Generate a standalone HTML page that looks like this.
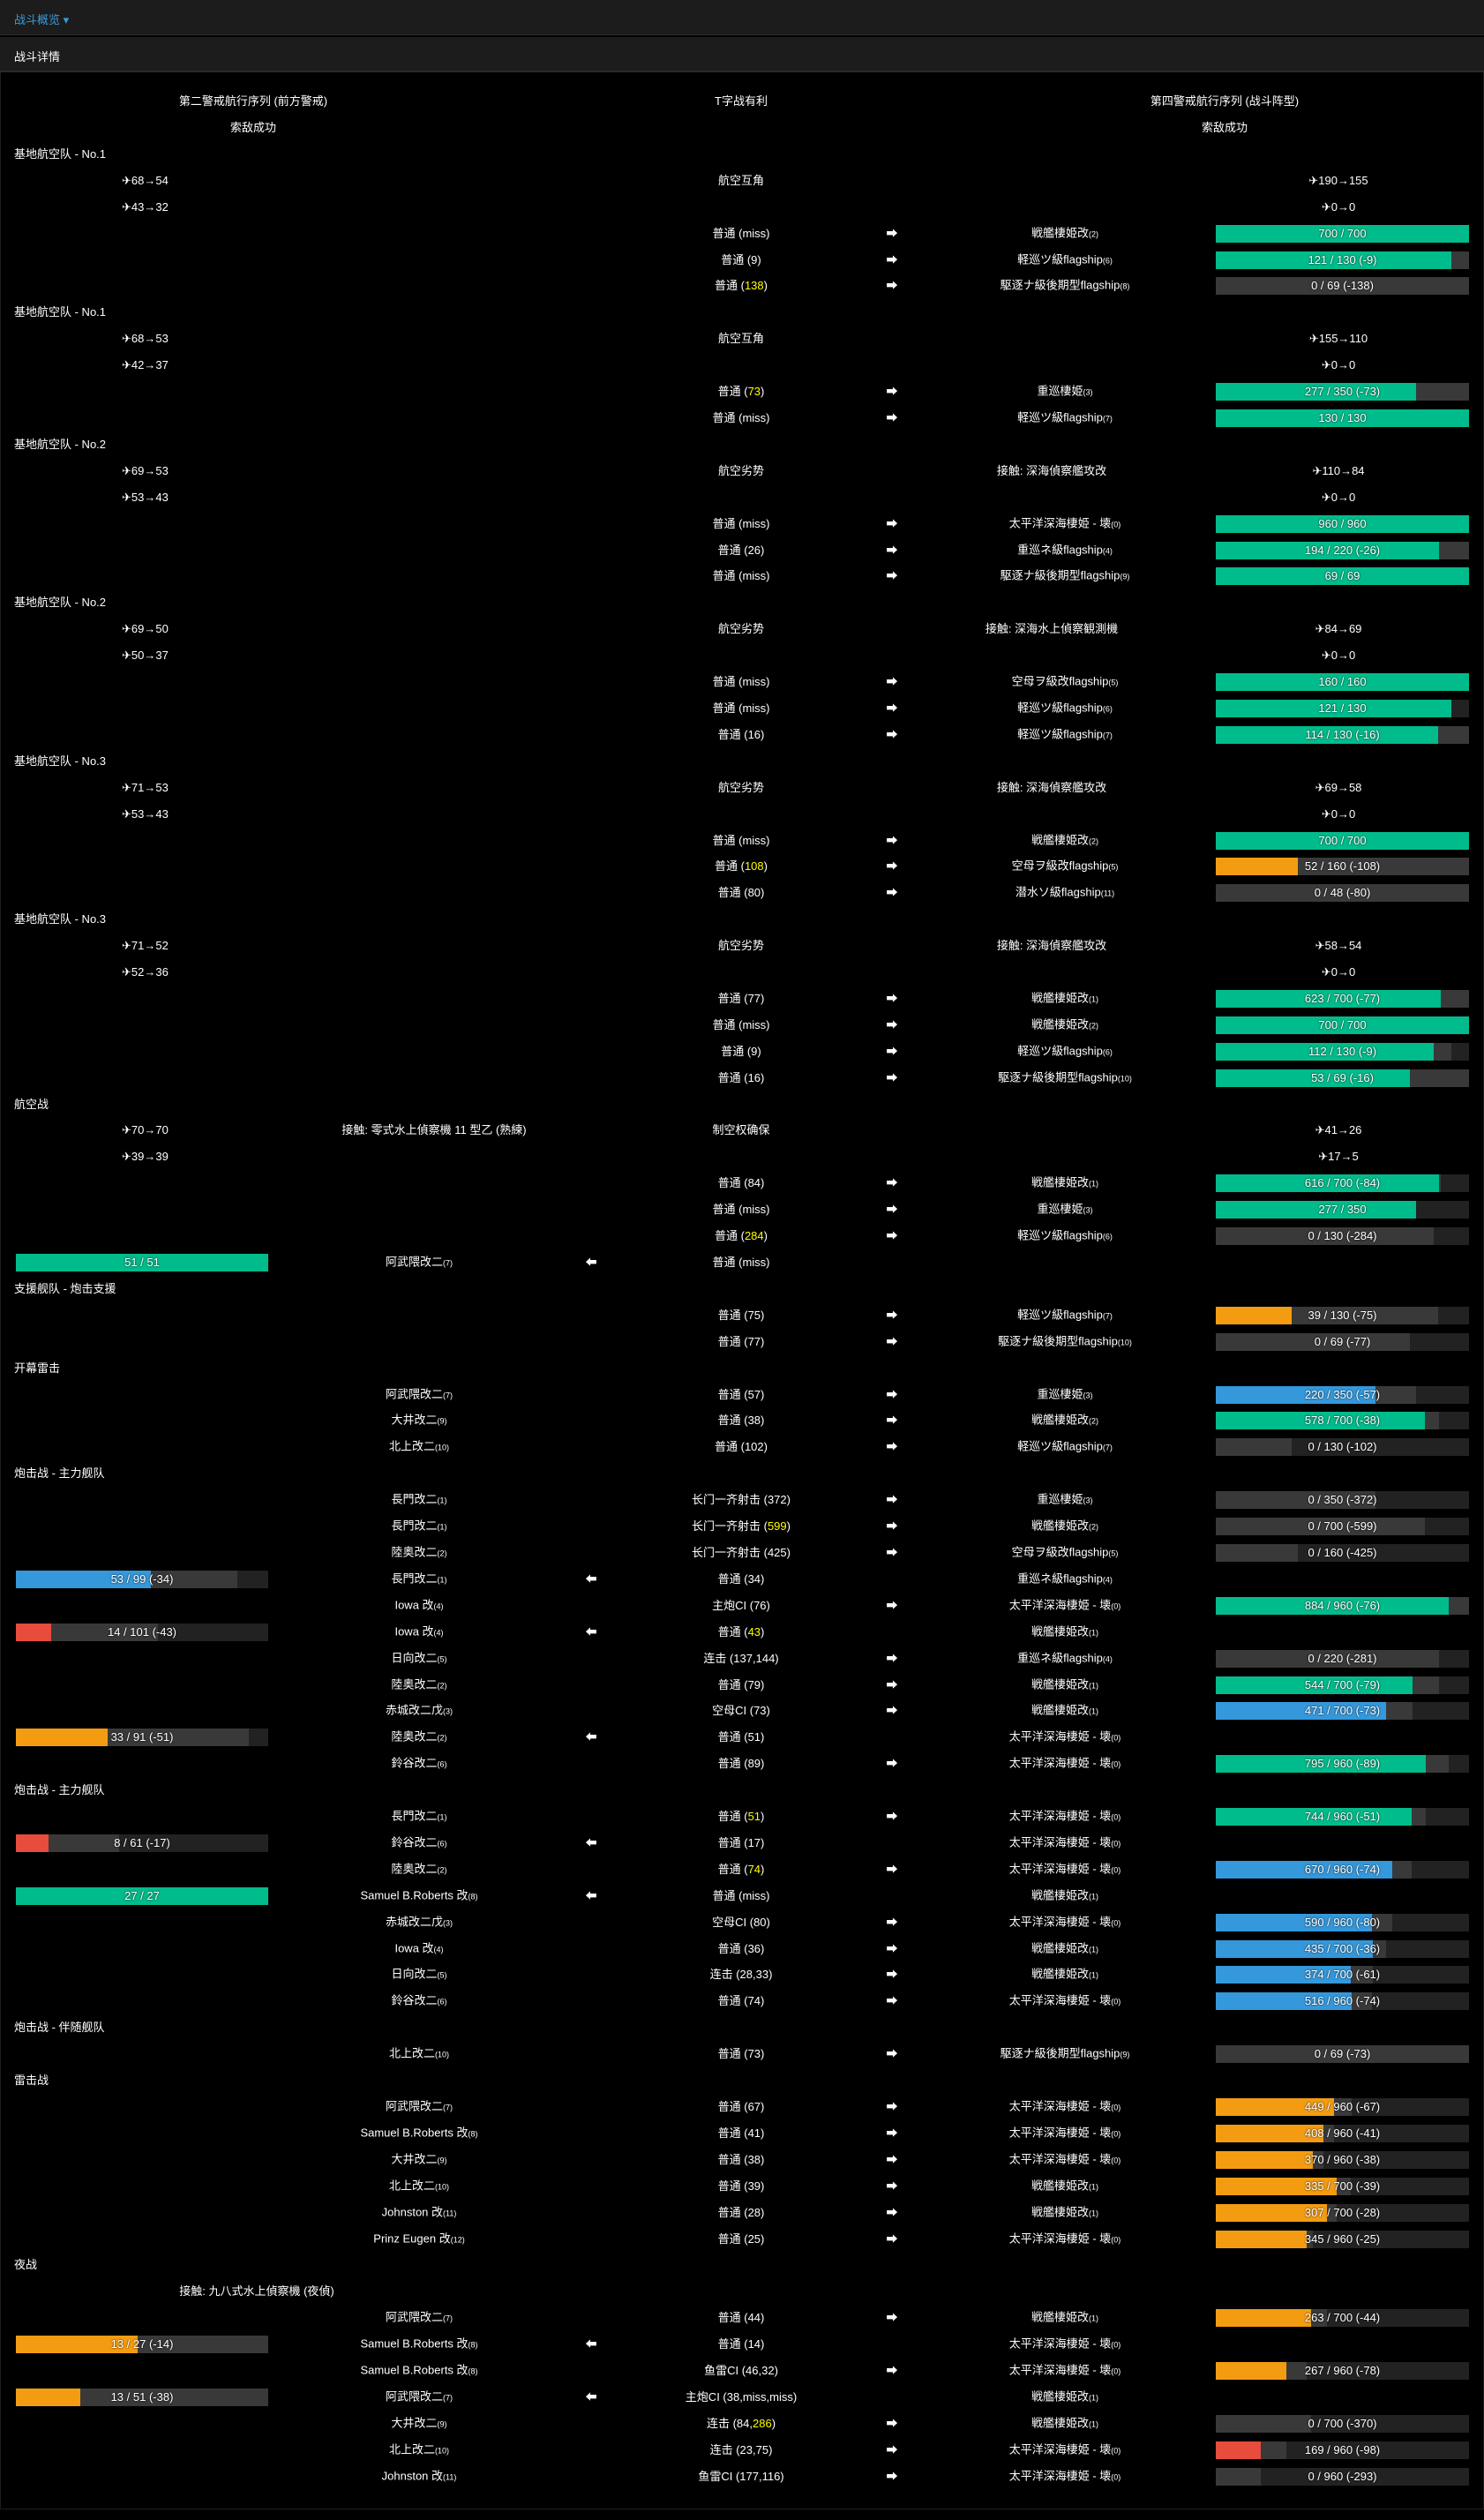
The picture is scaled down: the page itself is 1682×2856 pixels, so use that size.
<!DOCTYPE html>
<html><head><meta charset="utf-8">
<style>
*{box-sizing:border-box;margin:0;padding:0}
body{width:1682px;height:2856px;background:#000;color:#fff;font-family:"Liberation Sans","Noto Sans CJK SC",sans-serif;font-size:13px;position:relative;overflow:hidden}
.nav{position:absolute;left:0;top:0;width:1682px;height:40px;background:#1c1c1c;border-bottom:1px solid #2c2c2c}
.nav span{position:absolute;left:16px;top:12px;color:#3a9ad9;font-size:13px}
.hd{position:absolute;left:0;top:42px;width:1682px;height:40px;background:#1c1c1c;border-bottom:2px solid #2a2a2a}
.hd span{position:absolute;left:16px;top:12px}
.box{position:absolute;left:0;top:82px;width:1682px;height:2762px;border:1px solid #1e1e1e;border-top:none}
#rows{position:absolute;left:0;top:100.2px;width:1682px}
.r{position:relative;height:29.92px;width:1682px}
.r>*{position:absolute;top:50%;white-space:nowrap;line-height:16px}
.t{left:16px;transform:translateY(-50%)}
.lp{left:138px;transform:translateY(-50%)}
.rp{left:1517px;transform:translate(-50%,-50%)}
.ln{left:475px;transform:translate(-50%,-50%)}
.la{left:670px;transform:translate(-50%,-50%)}
.c{left:840px;transform:translate(-50%,-50%)}
.ra{left:1011px;transform:translate(-50%,-50%)}
.en{left:1207px;transform:translate(-50%,-50%)}
.lc{left:492px;transform:translate(-50%,-50%)}
.rc{left:1192px;transform:translate(-50%,-50%)}
.h1{left:287px;transform:translate(-50%,-50%)}
.h2{left:1388px;transform:translate(-50%,-50%)}
.n0{left:291px;transform:translate(-50%,-50%)}
small{font-size:9px}
.y{color:#ff0}
.rb,.lb{height:20px;margin-top:-10px;background:#222;line-height:20px}
.rb{left:1378px;width:287px}
.lb{left:18px;width:286px}
.rb i,.lb i{position:absolute;left:0;top:0;height:20px}
i.l{background:#393939}
i.g{background:#00bc8c}
i.b{background:#3498db}
i.o{background:#f39c12}
i.d{background:#e74c3c}
.rb b,.lb b{position:absolute;left:0;right:0;top:0;text-align:center;font-weight:normal;text-shadow:0 0 2px #000}
</style></head><body>
<div class="nav"><span>战斗概览 ▾</span></div>
<div class="hd"><span>战斗详情</span></div>
<div class="box"></div>
<div id="rows">
<div class="r"><span class="h1">第二警戒航行序列 (前方警戒)</span><span class="c">T字战有利</span><span class="h2">第四警戒航行序列 (战斗阵型)</span></div>
<div class="r"><span class="h1">索敌成功</span><span class="h2">索敌成功</span></div>
<!-- 1 -->
<div class="r"><span class="t">基地航空队 - No.1</span></div>
<div class="r"><span class="lp">✈68→54</span><span class="c">航空互角</span><span class="rp">✈190→155</span></div>
<div class="r"><span class="lp">✈43→32</span><span class="rp">✈0→0</span></div>
<div class="r"><span class="c">普通 (miss)</span><span class="ra">➡</span><span class="en">戦艦棲姫改<small>(2)</small></span><div class="rb"><i class="l" style="width:100%"></i><i class="g" style="width:100%"></i><b>700 / 700</b></div></div>
<div class="r"><span class="c">普通 (9)</span><span class="ra">➡</span><span class="en">軽巡ツ級flagship<small>(6)</small></span><div class="rb"><i class="l" style="width:100%"></i><i class="g" style="width:93.1%"></i><b>121 / 130 (-9)</b></div></div>
<div class="r"><span class="c">普通 (<span class="y">138</span>)</span><span class="ra">➡</span><span class="en">駆逐ナ級後期型flagship<small>(8)</small></span><div class="rb"><i class="l" style="width:100%"></i><b>0 / 69 (-138)</b></div></div>
<!-- 7 -->
<div class="r"><span class="t">基地航空队 - No.1</span></div>
<div class="r"><span class="lp">✈68→53</span><span class="c">航空互角</span><span class="rp">✈155→110</span></div>
<div class="r"><span class="lp">✈42→37</span><span class="rp">✈0→0</span></div>
<div class="r"><span class="c">普通 (<span class="y">73</span>)</span><span class="ra">➡</span><span class="en">重巡棲姫<small>(3)</small></span><div class="rb"><i class="l" style="width:100%"></i><i class="g" style="width:79.1%"></i><b>277 / 350 (-73)</b></div></div>
<div class="r"><span class="c">普通 (miss)</span><span class="ra">➡</span><span class="en">軽巡ツ級flagship<small>(7)</small></span><div class="rb"><i class="g" style="width:100%"></i><b>130 / 130</b></div></div>
<!-- 12 -->
<div class="r"><span class="t">基地航空队 - No.2</span></div>
<div class="r"><span class="lp">✈69→53</span><span class="c">航空劣势</span><span class="rc">接触: 深海偵察艦攻改</span><span class="rp">✈110→84</span></div>
<div class="r"><span class="lp">✈53→43</span><span class="rp">✈0→0</span></div>
<div class="r"><span class="c">普通 (miss)</span><span class="ra">➡</span><span class="en">太平洋深海棲姫 - 壊<small>(0)</small></span><div class="rb"><i class="g" style="width:100%"></i><b>960 / 960</b></div></div>
<div class="r"><span class="c">普通 (26)</span><span class="ra">➡</span><span class="en">重巡ネ級flagship<small>(4)</small></span><div class="rb"><i class="l" style="width:100%"></i><i class="g" style="width:88.2%"></i><b>194 / 220 (-26)</b></div></div>
<div class="r"><span class="c">普通 (miss)</span><span class="ra">➡</span><span class="en">駆逐ナ級後期型flagship<small>(9)</small></span><div class="rb"><i class="g" style="width:100%"></i><b>69 / 69</b></div></div>
<!-- 18 -->
<div class="r"><span class="t">基地航空队 - No.2</span></div>
<div class="r"><span class="lp">✈69→50</span><span class="c">航空劣势</span><span class="rc">接触: 深海水上偵察観測機</span><span class="rp">✈84→69</span></div>
<div class="r"><span class="lp">✈50→37</span><span class="rp">✈0→0</span></div>
<div class="r"><span class="c">普通 (miss)</span><span class="ra">➡</span><span class="en">空母ヲ級改flagship<small>(5)</small></span><div class="rb"><i class="g" style="width:100%"></i><b>160 / 160</b></div></div>
<div class="r"><span class="c">普通 (miss)</span><span class="ra">➡</span><span class="en">軽巡ツ級flagship<small>(6)</small></span><div class="rb"><i class="g" style="width:93.1%"></i><b>121 / 130</b></div></div>
<div class="r"><span class="c">普通 (16)</span><span class="ra">➡</span><span class="en">軽巡ツ級flagship<small>(7)</small></span><div class="rb"><i class="l" style="width:100%"></i><i class="g" style="width:87.7%"></i><b>114 / 130 (-16)</b></div></div>
<!-- 24 -->
<div class="r"><span class="t">基地航空队 - No.3</span></div>
<div class="r"><span class="lp">✈71→53</span><span class="c">航空劣势</span><span class="rc">接触: 深海偵察艦攻改</span><span class="rp">✈69→58</span></div>
<div class="r"><span class="lp">✈53→43</span><span class="rp">✈0→0</span></div>
<div class="r"><span class="c">普通 (miss)</span><span class="ra">➡</span><span class="en">戦艦棲姫改<small>(2)</small></span><div class="rb"><i class="g" style="width:100%"></i><b>700 / 700</b></div></div>
<div class="r"><span class="c">普通 (<span class="y">108</span>)</span><span class="ra">➡</span><span class="en">空母ヲ級改flagship<small>(5)</small></span><div class="rb"><i class="l" style="width:100%"></i><i class="o" style="width:32.5%"></i><b>52 / 160 (-108)</b></div></div>
<div class="r"><span class="c">普通 (80)</span><span class="ra">➡</span><span class="en">潜水ソ級flagship<small>(11)</small></span><div class="rb"><i class="l" style="width:100%"></i><b>0 / 48 (-80)</b></div></div>
<!-- 30 -->
<div class="r"><span class="t">基地航空队 - No.3</span></div>
<div class="r"><span class="lp">✈71→52</span><span class="c">航空劣势</span><span class="rc">接触: 深海偵察艦攻改</span><span class="rp">✈58→54</span></div>
<div class="r"><span class="lp">✈52→36</span><span class="rp">✈0→0</span></div>
<div class="r"><span class="c">普通 (77)</span><span class="ra">➡</span><span class="en">戦艦棲姫改<small>(1)</small></span><div class="rb"><i class="l" style="width:100%"></i><i class="g" style="width:89%"></i><b>623 / 700 (-77)</b></div></div>
<div class="r"><span class="c">普通 (miss)</span><span class="ra">➡</span><span class="en">戦艦棲姫改<small>(2)</small></span><div class="rb"><i class="g" style="width:100%"></i><b>700 / 700</b></div></div>
<div class="r"><span class="c">普通 (9)</span><span class="ra">➡</span><span class="en">軽巡ツ級flagship<small>(6)</small></span><div class="rb"><i class="l" style="width:93.1%"></i><i class="g" style="width:86.2%"></i><b>112 / 130 (-9)</b></div></div>
<div class="r"><span class="c">普通 (16)</span><span class="ra">➡</span><span class="en">駆逐ナ級後期型flagship<small>(10)</small></span><div class="rb"><i class="l" style="width:100%"></i><i class="g" style="width:76.8%"></i><b>53 / 69 (-16)</b></div></div>
<!-- 37 -->
<div class="r"><span class="t">航空战</span></div>
<div class="r"><span class="lp">✈70→70</span><span class="lc">接触: 零式水上偵察機 11 型乙 (熟練)</span><span class="c">制空权确保</span><span class="rp">✈41→26</span></div>
<div class="r"><span class="lp">✈39→39</span><span class="rp">✈17→5</span></div>
<div class="r"><span class="c">普通 (84)</span><span class="ra">➡</span><span class="en">戦艦棲姫改<small>(1)</small></span><div class="rb"><i class="l" style="width:89%"></i><i class="g" style="width:88%"></i><b>616 / 700 (-84)</b></div></div>
<div class="r"><span class="c">普通 (miss)</span><span class="ra">➡</span><span class="en">重巡棲姫<small>(3)</small></span><div class="rb"><i class="g" style="width:79.1%"></i><b>277 / 350</b></div></div>
<div class="r"><span class="c">普通 (<span class="y">284</span>)</span><span class="ra">➡</span><span class="en">軽巡ツ級flagship<small>(6)</small></span><div class="rb"><i class="l" style="width:86.2%"></i><b>0 / 130 (-284)</b></div></div>
<div class="r"><div class="lb"><i class="g" style="width:100%"></i><b>51 / 51</b></div><span class="ln">阿武隈改二<small>(7)</small></span><span class="la">⬅</span><span class="c">普通 (miss)</span></div>
<!-- 44 -->
<div class="r"><span class="t">支援舰队 - 炮击支援</span></div>
<div class="r"><span class="c">普通 (75)</span><span class="ra">➡</span><span class="en">軽巡ツ級flagship<small>(7)</small></span><div class="rb"><i class="l" style="width:87.7%"></i><i class="o" style="width:30%"></i><b>39 / 130 (-75)</b></div></div>
<div class="r"><span class="c">普通 (77)</span><span class="ra">➡</span><span class="en">駆逐ナ級後期型flagship<small>(10)</small></span><div class="rb"><i class="l" style="width:76.8%"></i><b>0 / 69 (-77)</b></div></div>
<!-- 47 -->
<div class="r"><span class="t">开幕雷击</span></div>
<div class="r"><span class="ln">阿武隈改二<small>(7)</small></span><span class="c">普通 (57)</span><span class="ra">➡</span><span class="en">重巡棲姫<small>(3)</small></span><div class="rb"><i class="l" style="width:79.1%"></i><i class="b" style="width:62.9%"></i><b>220 / 350 (-57)</b></div></div>
<div class="r"><span class="ln">大井改二<small>(9)</small></span><span class="c">普通 (38)</span><span class="ra">➡</span><span class="en">戦艦棲姫改<small>(2)</small></span><div class="rb"><i class="l" style="width:88%"></i><i class="g" style="width:82.6%"></i><b>578 / 700 (-38)</b></div></div>
<div class="r"><span class="ln">北上改二<small>(10)</small></span><span class="c">普通 (102)</span><span class="ra">➡</span><span class="en">軽巡ツ級flagship<small>(7)</small></span><div class="rb"><i class="l" style="width:30%"></i><b>0 / 130 (-102)</b></div></div>
<!-- 51 -->
<div class="r"><span class="t">炮击战 - 主力舰队</span></div>
<div class="r"><span class="ln">長門改二<small>(1)</small></span><span class="c">长门一齐射击 (372)</span><span class="ra">➡</span><span class="en">重巡棲姫<small>(3)</small></span><div class="rb"><i class="l" style="width:62.9%"></i><b>0 / 350 (-372)</b></div></div>
<div class="r"><span class="ln">長門改二<small>(1)</small></span><span class="c">长门一齐射击 (<span class="y">599</span>)</span><span class="ra">➡</span><span class="en">戦艦棲姫改<small>(2)</small></span><div class="rb"><i class="l" style="width:82.6%"></i><b>0 / 700 (-599)</b></div></div>
<div class="r"><span class="ln">陸奥改二<small>(2)</small></span><span class="c">长门一齐射击 (425)</span><span class="ra">➡</span><span class="en">空母ヲ級改flagship<small>(5)</small></span><div class="rb"><i class="l" style="width:32.5%"></i><b>0 / 160 (-425)</b></div></div>
<div class="r"><div class="lb"><i class="l" style="width:87.9%"></i><i class="b" style="width:53.5%"></i><b>53 / 99 (-34)</b></div><span class="ln">長門改二<small>(1)</small></span><span class="la">⬅</span><span class="c">普通 (34)</span><span class="en">重巡ネ級flagship<small>(4)</small></span></div>
<div class="r"><span class="ln">Iowa 改<small>(4)</small></span><span class="c">主炮CI (76)</span><span class="ra">➡</span><span class="en">太平洋深海棲姫 - 壊<small>(0)</small></span><div class="rb"><i class="l" style="width:100%"></i><i class="g" style="width:92.1%"></i><b>884 / 960 (-76)</b></div></div>
<div class="r"><div class="lb"><i class="l" style="width:56.4%"></i><i class="d" style="width:13.9%"></i><b>14 / 101 (-43)</b></div><span class="ln">Iowa 改<small>(4)</small></span><span class="la">⬅</span><span class="c">普通 (<span class="y">43</span>)</span><span class="en">戦艦棲姫改<small>(1)</small></span></div>
<div class="r"><span class="ln">日向改二<small>(5)</small></span><span class="c">连击 (137,144)</span><span class="ra">➡</span><span class="en">重巡ネ級flagship<small>(4)</small></span><div class="rb"><i class="l" style="width:88.2%"></i><b>0 / 220 (-281)</b></div></div>
<div class="r"><span class="ln">陸奥改二<small>(2)</small></span><span class="c">普通 (79)</span><span class="ra">➡</span><span class="en">戦艦棲姫改<small>(1)</small></span><div class="rb"><i class="l" style="width:88%"></i><i class="g" style="width:77.7%"></i><b>544 / 700 (-79)</b></div></div>
<div class="r"><span class="ln">赤城改二戊<small>(3)</small></span><span class="c">空母CI (73)</span><span class="ra">➡</span><span class="en">戦艦棲姫改<small>(1)</small></span><div class="rb"><i class="l" style="width:77.7%"></i><i class="b" style="width:67.3%"></i><b>471 / 700 (-73)</b></div></div>
<div class="r"><div class="lb"><i class="l" style="width:92.3%"></i><i class="o" style="width:36.3%"></i><b>33 / 91 (-51)</b></div><span class="ln">陸奥改二<small>(2)</small></span><span class="la">⬅</span><span class="c">普通 (51)</span><span class="en">太平洋深海棲姫 - 壊<small>(0)</small></span></div>
<div class="r"><span class="ln">鈴谷改二<small>(6)</small></span><span class="c">普通 (89)</span><span class="ra">➡</span><span class="en">太平洋深海棲姫 - 壊<small>(0)</small></span><div class="rb"><i class="l" style="width:92.1%"></i><i class="g" style="width:82.8%"></i><b>795 / 960 (-89)</b></div></div>
<!-- 63 -->
<div class="r"><span class="t">炮击战 - 主力舰队</span></div>
<div class="r"><span class="ln">長門改二<small>(1)</small></span><span class="c">普通 (<span class="y">51</span>)</span><span class="ra">➡</span><span class="en">太平洋深海棲姫 - 壊<small>(0)</small></span><div class="rb"><i class="l" style="width:82.8%"></i><i class="g" style="width:77.5%"></i><b>744 / 960 (-51)</b></div></div>
<div class="r"><div class="lb"><i class="l" style="width:41%"></i><i class="d" style="width:13.1%"></i><b>8 / 61 (-17)</b></div><span class="ln">鈴谷改二<small>(6)</small></span><span class="la">⬅</span><span class="c">普通 (17)</span><span class="en">太平洋深海棲姫 - 壊<small>(0)</small></span></div>
<div class="r"><span class="ln">陸奥改二<small>(2)</small></span><span class="c">普通 (<span class="y">74</span>)</span><span class="ra">➡</span><span class="en">太平洋深海棲姫 - 壊<small>(0)</small></span><div class="rb"><i class="l" style="width:77.5%"></i><i class="b" style="width:69.8%"></i><b>670 / 960 (-74)</b></div></div>
<div class="r"><div class="lb"><i class="g" style="width:100%"></i><b>27 / 27</b></div><span class="ln">Samuel B.Roberts 改<small>(8)</small></span><span class="la">⬅</span><span class="c">普通 (miss)</span><span class="en">戦艦棲姫改<small>(1)</small></span></div>
<div class="r"><span class="ln">赤城改二戊<small>(3)</small></span><span class="c">空母CI (80)</span><span class="ra">➡</span><span class="en">太平洋深海棲姫 - 壊<small>(0)</small></span><div class="rb"><i class="l" style="width:69.8%"></i><i class="b" style="width:61.5%"></i><b>590 / 960 (-80)</b></div></div>
<div class="r"><span class="ln">Iowa 改<small>(4)</small></span><span class="c">普通 (36)</span><span class="ra">➡</span><span class="en">戦艦棲姫改<small>(1)</small></span><div class="rb"><i class="l" style="width:67.3%"></i><i class="b" style="width:62.1%"></i><b>435 / 700 (-36)</b></div></div>
<div class="r"><span class="ln">日向改二<small>(5)</small></span><span class="c">连击 (28,33)</span><span class="ra">➡</span><span class="en">戦艦棲姫改<small>(1)</small></span><div class="rb"><i class="l" style="width:62.1%"></i><i class="b" style="width:53.4%"></i><b>374 / 700 (-61)</b></div></div>
<div class="r"><span class="ln">鈴谷改二<small>(6)</small></span><span class="c">普通 (74)</span><span class="ra">➡</span><span class="en">太平洋深海棲姫 - 壊<small>(0)</small></span><div class="rb"><i class="l" style="width:61.5%"></i><i class="b" style="width:53.75%"></i><b>516 / 960 (-74)</b></div></div>
<!-- 72 -->
<div class="r"><span class="t">炮击战 - 伴随舰队</span></div>
<div class="r"><span class="ln">北上改二<small>(10)</small></span><span class="c">普通 (73)</span><span class="ra">➡</span><span class="en">駆逐ナ級後期型flagship<small>(9)</small></span><div class="rb"><i class="l" style="width:100%"></i><b>0 / 69 (-73)</b></div></div>
<!-- 74 -->
<div class="r"><span class="t">雷击战</span></div>
<div class="r"><span class="ln">阿武隈改二<small>(7)</small></span><span class="c">普通 (67)</span><span class="ra">➡</span><span class="en">太平洋深海棲姫 - 壊<small>(0)</small></span><div class="rb"><i class="l" style="width:53.75%"></i><i class="o" style="width:46.8%"></i><b>449 / 960 (-67)</b></div></div>
<div class="r"><span class="ln">Samuel B.Roberts 改<small>(8)</small></span><span class="c">普通 (41)</span><span class="ra">➡</span><span class="en">太平洋深海棲姫 - 壊<small>(0)</small></span><div class="rb"><i class="l" style="width:46.8%"></i><i class="o" style="width:42.5%"></i><b>408 / 960 (-41)</b></div></div>
<div class="r"><span class="ln">大井改二<small>(9)</small></span><span class="c">普通 (38)</span><span class="ra">➡</span><span class="en">太平洋深海棲姫 - 壊<small>(0)</small></span><div class="rb"><i class="l" style="width:42.5%"></i><i class="o" style="width:38.5%"></i><b>370 / 960 (-38)</b></div></div>
<div class="r"><span class="ln">北上改二<small>(10)</small></span><span class="c">普通 (39)</span><span class="ra">➡</span><span class="en">戦艦棲姫改<small>(1)</small></span><div class="rb"><i class="l" style="width:53.4%"></i><i class="o" style="width:47.9%"></i><b>335 / 700 (-39)</b></div></div>
<div class="r"><span class="ln">Johnston 改<small>(11)</small></span><span class="c">普通 (28)</span><span class="ra">➡</span><span class="en">戦艦棲姫改<small>(1)</small></span><div class="rb"><i class="l" style="width:47.9%"></i><i class="o" style="width:43.9%"></i><b>307 / 700 (-28)</b></div></div>
<div class="r"><span class="ln">Prinz Eugen 改<small>(12)</small></span><span class="c">普通 (25)</span><span class="ra">➡</span><span class="en">太平洋深海棲姫 - 壊<small>(0)</small></span><div class="rb"><i class="l" style="width:38.5%"></i><i class="o" style="width:35.9%"></i><b>345 / 960 (-25)</b></div></div>
<!-- 81 -->
<div class="r"><span class="t">夜战</span></div>
<div class="r"><span class="n0">接触: 九八式水上偵察機 (夜偵)</span></div>
<div class="r"><span class="ln">阿武隈改二<small>(7)</small></span><span class="c">普通 (44)</span><span class="ra">➡</span><span class="en">戦艦棲姫改<small>(1)</small></span><div class="rb"><i class="l" style="width:43.9%"></i><i class="o" style="width:37.6%"></i><b>263 / 700 (-44)</b></div></div>
<div class="r"><div class="lb"><i class="l" style="width:100%"></i><i class="o" style="width:48.1%"></i><b>13 / 27 (-14)</b></div><span class="ln">Samuel B.Roberts 改<small>(8)</small></span><span class="la">⬅</span><span class="c">普通 (14)</span><span class="en">太平洋深海棲姫 - 壊<small>(0)</small></span></div>
<div class="r"><span class="ln">Samuel B.Roberts 改<small>(8)</small></span><span class="c">鱼雷CI (46,32)</span><span class="ra">➡</span><span class="en">太平洋深海棲姫 - 壊<small>(0)</small></span><div class="rb"><i class="l" style="width:35.9%"></i><i class="o" style="width:27.8%"></i><b>267 / 960 (-78)</b></div></div>
<div class="r"><div class="lb"><i class="l" style="width:100%"></i><i class="o" style="width:25.5%"></i><b>13 / 51 (-38)</b></div><span class="ln">阿武隈改二<small>(7)</small></span><span class="la">⬅</span><span class="c">主炮CI (38,miss,miss)</span><span class="en">戦艦棲姫改<small>(1)</small></span></div>
<div class="r"><span class="ln">大井改二<small>(9)</small></span><span class="c">连击 (84,<span class="y">286</span>)</span><span class="ra">➡</span><span class="en">戦艦棲姫改<small>(1)</small></span><div class="rb"><i class="l" style="width:37.6%"></i><b>0 / 700 (-370)</b></div></div>
<div class="r"><span class="ln">北上改二<small>(10)</small></span><span class="c">连击 (23,75)</span><span class="ra">➡</span><span class="en">太平洋深海棲姫 - 壊<small>(0)</small></span><div class="rb"><i class="l" style="width:27.8%"></i><i class="d" style="width:17.6%"></i><b>169 / 960 (-98)</b></div></div>
<div class="r"><span class="ln">Johnston 改<small>(11)</small></span><span class="c">鱼雷CI (177,116)</span><span class="ra">➡</span><span class="en">太平洋深海棲姫 - 壊<small>(0)</small></span><div class="rb"><i class="l" style="width:17.6%"></i><b>0 / 960 (-293)</b></div></div>
</div>
</body></html>
